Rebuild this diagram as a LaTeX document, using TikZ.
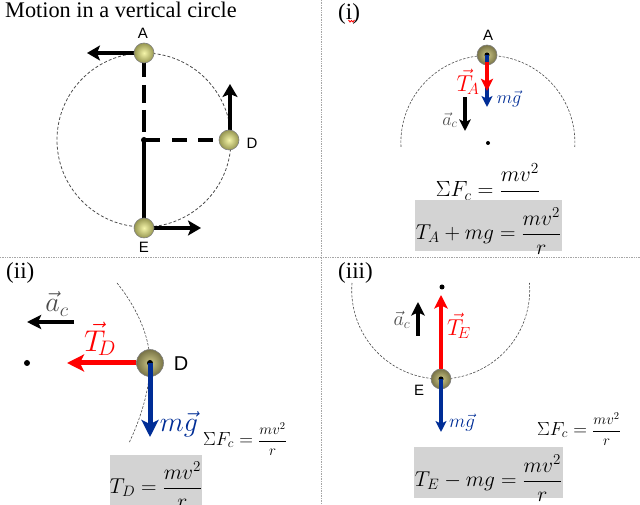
\documentclass[tikz,border=0pt]{standalone}
\usepackage{fix-cm}
\usepackage{amsmath}
\usepackage{fontspec}
\setmainfont{Liberation Serif}
\newfontfamily\labelfont{Liberation Sans}
\usetikzlibrary{arrows.meta}
\definecolor{forcered}{RGB}{255,0,0}
\definecolor{forceblue}{RGB}{0,45,150}
\definecolor{boxgray}{RGB}{211,211,211}
\definecolor{ballhi}{RGB}{245,245,170}
\definecolor{balllo}{RGB}{150,150,80}
\definecolor{dullhi}{RGB}{205,200,135}
\definecolor{dulllo}{RGB}{120,115,70}
\newcommand{\fcsmall}{\mbox{\fontsize{15}{15}\selectfont$\dfrac{mv^2}{r}$}}
\tikzset{
 sz/.style={font=\fontsize{#1}{#1}\selectfont},
 ptname/.style={font=\labelfont\fontsize{#1}{#1}\selectfont, inner sep=0pt},
 orbit/.style={draw=black!70, dash pattern=on 2.5pt off 1.5pt, line width=0.6pt},
 divider/.style={draw=black!35, densely dotted, line width=0.7pt},
 ball/.style={circle, inner sep=0pt, minimum size=20pt, draw=black!50, line width=0.6pt, inner color=ballhi, outer color=balllo},
 dullball/.style={ball, inner color=dullhi, outer color=dulllo},
 centerdot/.style={circle, fill=black, inner sep=0pt, minimum size=#1},
 vel/.style={-{Stealth[length=13pt,width=15pt,inset=3pt]}, line width=3.5pt},
 force/.style={-{Stealth[length=#1*3.4pt,width=#1*3.4pt,inset=#1*0.8pt]}, line width=#1*1pt},
}
\begin{document}
\begin{tikzpicture}[x=1pt,y=1pt]
\useasboundingbox (0,0) rectangle (640,505);

% dividers
\draw[divider] (321,505) -- (321,0);
\draw[divider] (0,248) -- (640,248);

% top left
\node[anchor=base west, inner sep=0pt, sz=22.3] (title) at (5,487) {Motion in a vertical circle};
\coordinate (o) at (144,365);
\draw[orbit, line width=0.8pt, dash pattern=on 3pt off 2pt] (o) circle (87);
\coordinate (av) at (87,452);
\coordinate (dv) at (230,421);
\coordinate (ev) at (201,277);
\coordinate (ds) at (230,365);
\draw[vel] (144,452) -- (av);
\draw[vel] (ds) -- (dv);
\draw[vel] (144,277) -- (ev);
\draw[line width=3.5pt, dash pattern=on 24pt off 8pt on 18pt off 7pt on 22pt off 8pt] (144,452) -- (o);
\draw[line width=3.5pt, dash pattern=on 16pt off 12pt on 15pt off 11pt on 15pt off 8pt] (o) -- (229,365);
\draw[line width=3.5pt] (144,277) -- (o);
\node[centerdot=6pt] (oc) at (o) {};
\node[ball] (a) at (144,452) {};
\node[ball] (d) at (229,365) {};
\node[ball] (e) at (144,277) {};
\node[ptname=15] (la) at (143,472) {A};
\node[ptname=15] (ld) at (252,362) {D};
\node[ptname=15] (le) at (144,258) {E};

% panel i
\node[anchor=base west, inner sep=0pt, sz=23] (pi) at (338,485) {(i)};
\draw[red, line width=0.9pt] (348.5,485) -- (350,483) -- (351.5,484.5) -- (353,483) -- (354.5,485);
\coordinate (oi) at (488,362);
\draw[orbit] (401,358) arc[start angle=183, end angle=-3, radius=87];
\node[centerdot=4pt] (ci) at (oi) {};
\node[dullball] (ai) at (487,450) {};
\node[centerdot=5pt] (ain) at (ai) {};
\coordinate (gi) at (487,398);
\coordinate (ti) at (487,414);
\coordinate (aci0) at (465,408);
\coordinate (aci1) at (465,374);
\draw[force=3.2, forceblue] (ai.center) -- (gi);
\draw[force=3.6, forcered] (487,443) -- (ti);
\draw[force=3.4] (aci0) -- (aci1);
\node[ptname=15] (lai) at (488,470) {A};
\node[forcered, sz=23] (ltai) at (468,423) {$\vec{T}_{\!A}$};
\node[forceblue, sz=18] (lgi) at (509,406) {$m\vec{g}$};
\node[black!70, sz=18] (laci) at (450,385) {$\vec{a}_c$};
\node[sz=22] (eqi) at (488,317) {$\Sigma F_c=\dfrac{mv^2}{r}$};
\fill[boxgray] (415,254) rectangle (562,305);
\node[sz=21.5] (eqia) at (488.5,274) {$T_A+mg=\dfrac{mv^2}{r}$};

% panel ii
\node[anchor=base west, inner sep=0pt, sz=23] (pii) at (6,226) {(ii)};
\coordinate (oii) at (27,142);
\node[centerdot=6pt] (cii) at (oii) {};
\draw[orbit] (117,222) .. controls (135,200) and (150,170) .. (150,142) .. controls (150,115) and (140,85) .. (129,62);
\node[dullball, minimum size=27pt] (dii) at (150,142) {};
\node[centerdot=6pt] (din) at (dii) {};
\coordinate (tii) at (67,142);
\coordinate (gii) at (150,68);
\coordinate (acii0) at (74,183);
\coordinate (acii1) at (27,183);
\draw[force=5, forcered] (dii.west) -- (tii);
\draw[force=5, forceblue] (dii.center) -- (gii);
\draw[force=4.2] (acii0) -- (acii1);
\node[ptname=20] (ldii) at (181,141) {D};
\node[black!70, sz=28] (lacii) at (57,201) {$\vec{a}_c$};
\node[forcered, sz=30] (ltdii) at (100,166) {$\vec{T}_{\!D}$};
\node[forceblue, sz=28] (lgii) at (179,81) {$m\vec{g}$};
\node[sz=19] (eqii) at (245,66) {$\Sigma F_c=\fcsmall$};
\fill[boxgray] (110,0) rectangle (202,50);
\node[sz=21.5] (eqiia) at (156,20) {$T_D=\dfrac{mv^2}{r}$};

% panel iii
\node[anchor=base west, inner sep=0pt, sz=23] (piii) at (338,226) {(iii)};
\coordinate (oiii) at (442,218);
\node[centerdot=5pt] (ciii) at (oiii) {};
\draw[orbit] (352,222) arc[start angle=175.5, end angle=364.5, radius=89];
\node[dullball] (eiii) at (441,126) {};
\node[centerdot=5pt] (ein) at (eiii) {};
\coordinate (tiii) at (441,210);
\coordinate (giii) at (441,73);
\coordinate (aciii0) at (418,169);
\coordinate (aciii1) at (418,203);
\draw[force=4, forcered] (eiii.north) -- (tiii);
\draw[force=3.2, forceblue] (eiii.center) -- (giii);
\draw[force=4] (aciii0) -- (aciii1);
\node[ptname=15] (leiii) at (419,115) {E};
\node[black!70, sz=20] (laciii) at (402,185) {$\vec{a}_c$};
\node[forcered, sz=23] (lteiii) at (459,179) {$\vec{T}_{\!E}$};
\node[forceblue, sz=19] (lgiii) at (462,82) {$m\vec{g}$};
\node[sz=19] (eqiii) at (579,76) {$\Sigma F_c=\fcsmall$};
\fill[boxgray] (414,7) rectangle (563,58);
\node[sz=21.5] (eqiiia) at (488.5,27) {$T_E-mg=\dfrac{mv^2}{r}$};
\end{tikzpicture}
\end{document}
